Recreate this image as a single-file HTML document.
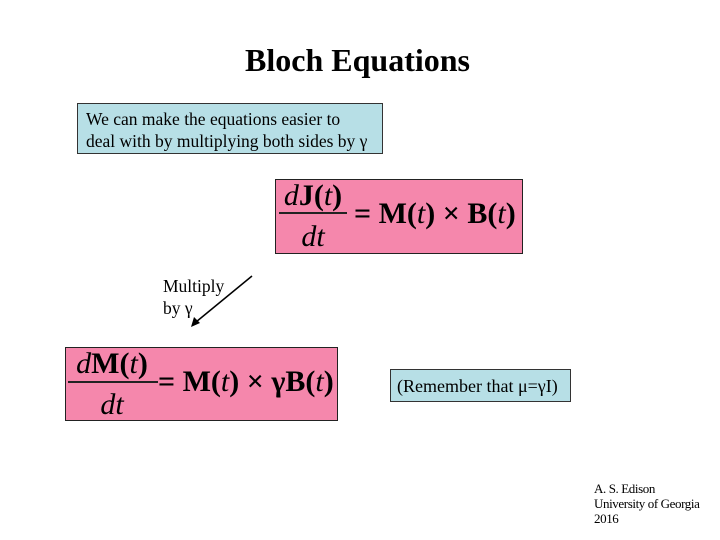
<!DOCTYPE html>
<html><head><style>
body{margin:0;width:720px;height:540px;background:#fff;position:relative;overflow:hidden;font-family:"Liberation Serif",serif;}
.a{position:absolute;white-space:nowrap;}
.eq{font-weight:bold;font-size:30px;}
i{font-style:italic;font-weight:normal;}
</style></head><body>
<div class="a" style="left:0;width:715px;top:42px;text-align:center;font-size:32px;font-weight:bold;">Bloch Equations</div>
<div class="a" style="left:77px;top:103px;background:#b7dfe6;border:1px solid #333;font-size:17.5px;line-height:22px;padding:4px 0 0 8px;box-sizing:border-box;width:306px;height:51px;">We can make the equations easier to<br>deal with by multiplying both sides by γ</div>

<div class="a" style="left:275px;top:179px;width:246px;height:73px;background:#f587ac;border:1px solid #222;"></div>
<div class="a eq" style="left:280px;top:179px;width:66px;text-align:center;"><i>d</i>J(<i>t</i>)</div>
<div class="a" style="left:279px;top:212px;width:68px;height:2px;background:#222;"></div>
<div class="a eq" style="left:280px;top:220px;width:66px;text-align:center;"><i>dt</i></div>
<div class="a eq" style="left:354px;top:197px;">= M(<i>t</i>) × B(<i>t</i>)</div>

<div class="a" style="left:163px;top:275px;font-size:17.5px;line-height:22px;">Multiply<br>by γ</div>
<svg class="a" style="left:0;top:0" width="720" height="540"><line x1="252" y1="276" x2="196" y2="322" stroke="#000" stroke-width="1.5"/><polygon points="191,327 194,317 200,323" fill="#000"/></svg>

<div class="a" style="left:65px;top:347px;width:271px;height:72px;background:#f587ac;border:1px solid #222;"></div>
<div class="a eq" style="left:67px;top:347px;width:90px;text-align:center;"><i>d</i>M(<i>t</i>)</div>
<div class="a" style="left:68px;top:381px;width:90px;height:2px;background:#222;"></div>
<div class="a eq" style="left:67px;top:388px;width:90px;text-align:center;"><i>dt</i></div>
<div class="a eq" style="left:158px;top:365px;">= M(<i>t</i>) × γB(<i>t</i>)</div>

<div class="a" style="left:390px;top:369px;width:181px;height:33px;background:#b7dfe6;border:1px solid #333;box-sizing:border-box;font-size:18px;padding:6px 0 0 6px;">(Remember that μ=γI)</div>

<div class="a" style="left:594px;top:481px;font-size:13px;line-height:15px;letter-spacing:-0.4px;">A. S. Edison<br>University of Georgia<br>2016</div>
</body></html>
